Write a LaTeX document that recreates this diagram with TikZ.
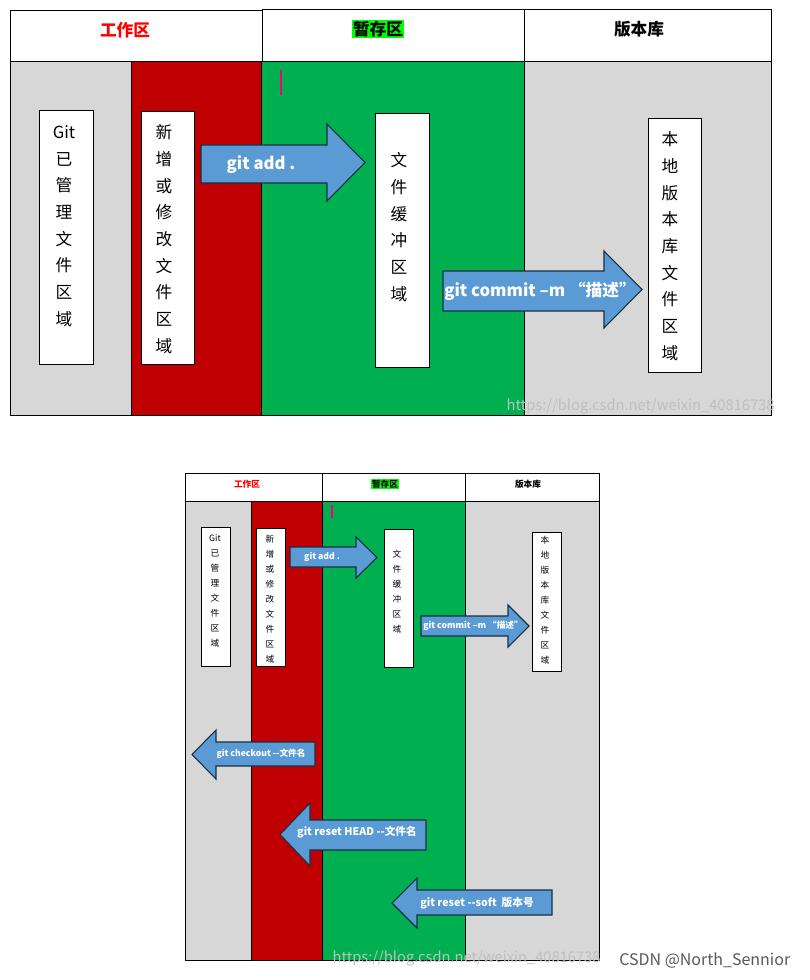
\documentclass[tikz,border=0pt]{standalone}
\usepackage{fontspec}
\setmainfont{Noto Sans CJK SC}
\begin{document}
\begin{tikzpicture}[x=0.75pt,y=-0.75pt,
  cell/.style={draw=black,line width=0.6pt},
  vbox/.style={draw=black,fill=white,line width=0.6pt},
  arr/.style={draw=black!80!blue,fill=blue!35!cyan!60!gray,line width=0.8pt},
  big/.style={font=\fontsize{12.5}{20}\selectfont,align=center},
  small/.style={font=\fontsize{6.5}{11.2}\selectfont,align=center},
  atxt/.style={text=white,font=\bfseries}]
\definecolor{g1}{RGB}{215,215,215}\definecolor{r1}{RGB}{192,0,0}\definecolor{gr}{RGB}{0,176,80}
\definecolor{ab}{RGB}{91,155,213}
\tikzset{arr/.style={draw=black!70!ab,fill=ab,line width=0.8pt}}
\newcommand\rarr[8]{\draw[arr] (#1,#4)--(#3,#4)--(#3,#6)--(#2,#8)--(#3,#7)--(#3,#5)--(#1,#5)--cycle;}
\newcommand\larr[8]{\draw[arr] (#2,#4)--(#3,#4)--(#3,#6)--(#1,#8)--(#3,#7)--(#3,#5)--(#2,#5)--cycle;}
\fill[white] (0,0) rectangle (809,980);
% ===== top =====
\fill[g1] (10,61) rectangle (131,415);
\fill[r1] (131,61) rectangle (261,415);
\fill[gr] (261,61) rectangle (524,415);
\fill[g1] (524,61) rectangle (771,415);
\draw[cell] (10,61) rectangle (771,415);
\draw[cell] (131,61)--(131,415) (261,61)--(261,415) (524,61)--(524,415);
\draw[cell] (10,10) rectangle (262,61);
\draw[cell] (262,9) rectangle (524,61);
\draw[cell] (524,9) rectangle (771,61);
\node[text=red,font=\fontsize{12.5}{14}\bfseries] (h1) at (125,30) {工作区};
\node[fill=green,inner sep=1pt,font=\fontsize{12.5}{14}\bfseries] (h2) at (378,29) {暂存区};
\node[font=\fontsize{12.5}{14}\bfseries] (h3) at (639,29) {版本库};
\draw[magenta!70!red,line width=0.8pt] (281,70)--(281,95);
\draw[vbox] (39,110) rectangle (93,364);
\node[big] (a1) at (64,226) {Git\\已\\管\\理\\文\\件\\区\\域};
\draw[vbox] (141,111) rectangle (194,364);
\node[big] (a2) at (164,239) {新\\增\\或\\修\\改\\文\\件\\区\\域};
\draw[vbox] (375,113) rectangle (429,367);
\node[big] (a3) at (399,227) {文\\件\\缓\\冲\\区\\域};
\draw[vbox] (648,118) rectangle (701,372);
\node[big] (a4) at (670,246) {本\\地\\版\\本\\库\\文\\件\\区\\域};
\rarr{201}{365}{327}{145}{183}{124}{201}{162.5}
\node[atxt,font=\fontsize{12.5}{14}\bfseries] (t1) at (261,165) {git add .};
\rarr{443}{642}{604}{271}{311}{251}{328}{289.5}
\node[atxt,font=\fontsize{12.5}{14}\bfseries] (t2) at (540,291) {git commit –m “描述”};
\node[text=black!25,font=\fontsize{11}{12}\selectfont,anchor=west] (w1) at (502,406) {https://blog.csdn.net/weixin\_40816738};
% ===== bottom =====
\fill[g1] (185,501) rectangle (251,960);
\fill[r1] (251,501) rectangle (322,960);
\fill[gr] (322,501) rectangle (465,960);
\fill[g1] (465,501) rectangle (599,960);
\draw[cell] (185,501) rectangle (599,960);
\draw[cell] (251,501)--(251,960) (322,501)--(322,960) (465,501)--(465,960);
\draw[cell] (185,473) rectangle (322,501);
\draw[cell] (322,473) rectangle (465,501);
\draw[cell] (465,473) rectangle (599,501);
\node[text=red,font=\fontsize{6.5}{8}\bfseries] (b1) at (247,484) {工作区};
\node[fill=green,inner sep=0.5pt,font=\fontsize{6.5}{8}\bfseries] (b2) at (385,484) {暂存区};
\node[font=\fontsize{6.5}{8}\bfseries] (b3) at (528,484) {版本库};
\draw[magenta!70!red,line width=0.8pt] (332,505)--(332,518);
\draw[vbox] (201,527) rectangle (230,666);
\node[small] (c1) at (215,591) {Git\\已\\管\\理\\文\\件\\区\\域};
\draw[vbox] (256,528) rectangle (285,666);
\node[small] (c2) at (270,599) {新\\增\\或\\修\\改\\文\\件\\区\\域};
\draw[vbox] (384,529) rectangle (413,667);
\node[small] (c3) at (397,592) {文\\件\\缓\\冲\\区\\域};
\draw[vbox] (532,532) rectangle (561,671);
\node[small] (c4) at (545,600) {本\\地\\版\\本\\库\\文\\件\\区\\域};
\rarr{290}{377}{356}{547}{567}{537}{578}{557.5}
\node[atxt,font=\fontsize{6.5}{8}\bfseries] (d1) at (322,557) {git add .};
\rarr{421}{529}{508}{616}{636}{605}{647}{626}
\node[atxt,font=\fontsize{6.5}{8}\bfseries] (d2) at (473,626) {git commit –m “描述”};
\larr{192}{315}{216}{742}{766}{730}{779}{754.5}
\node[atxt,font=\fontsize{6.5}{8}\bfseries] (d3) at (261,754) {git checkout -{}-文件名};
\larr{280}{426}{310}{820}{850}{803}{866}{834.5}
\node[atxt,font=\fontsize{8}{9}\bfseries] (d4) at (357,832) {git reset HEAD -{}-文件名};
\larr{392}{552}{417}{890}{915}{878}{928}{903}
\node[atxt,font=\fontsize{8}{9}\bfseries] (d5) at (477,903) {git reset -{}-soft\ \ 版本号};
\node[text=black!25,font=\fontsize{11}{12}\selectfont,anchor=west] (w2) at (328,958) {https://blog.csdn.net/weixin\_40816738};
\node[text=black!65,font=\fontsize{12}{13}\selectfont,anchor=east] (w3) at (795,961) {CSDN @North\_Sennior};
\end{tikzpicture}
\end{document}
